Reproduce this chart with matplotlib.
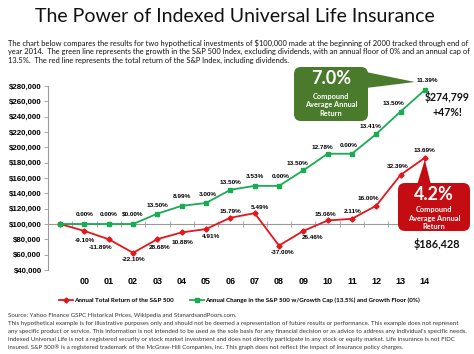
import matplotlib
matplotlib.use("Agg")
import matplotlib.pyplot as plt
from matplotlib.patches import FancyBboxPatch, Polygon

# ---------------- data ----------------
years = ["", "00", "01", "02", "03", "04", "05", "06", "07", "08", "09", "10", "11", "12", "13", "14"]
green_values = [100000, 100000, 100000, 100000, 113500, 123704, 127415, 144616, 149721,
                149721, 169933, 191651, 191651, 217351, 246693, 274799]
red_values = [100000, 90900, 80092, 62392, 80286, 89021, 93392, 108139, 114076,
              71868, 90884, 104571, 106778, 123862, 163982, 186428]
green_labels = [None, "0.00%", "0.00%", "$0.00%", "13.50%", "8.99%", "3.00%", "13.50%", "3.53%",
                "0.00%", "13.50%", "12.78%", "0.00%", "13.41%", "13.50%", "11.39%"]
red_labels = [None, "-9.10%", "-11.89%", "-22.10%", "28.68%", "10.88%", "4.91%", "15.79%", "5.49%",
              "-37.00%", "26.46%", "15.06%", "2.11%", "16.00%", "32.39%", "13.69%"]
y_ticks = [40000, 60000, 80000, 100000, 120000, 140000, 160000, 180000, 200000,
           220000, 240000, 260000, 280000]
red_name = "Annual Total Return of the S&P 500"
green_name = "Annual Change in the S&P 500 w/Growth Cap (13.5%) and Growth Floor (0%)"

# label offsets in pixels (style only)
green_off = [None, (0, 10), (0, 10), (0, 10), (0, 8), (0, 9), (2, 8), (0, 7), (0, 9), (2, 9),
             (-6, 7), (-5, 6), (-3, 8), (-6, 8), (-7, 8), (2, 9)]
red_off = [None, (0, -10), (-8, -8), (0, -7), (2, -8), (1, -10), (5, -7), (0, 6), (5, 6), (4, -7),
           (9, -7), (-2, 6), (1, 7), (-8, 7), (-3, 8), (0, 7)]

W, H = 474, 354
GREEN = "#1aab55"
RED = "#e3161c"
BOX_GREEN = "#4a7a2c"
BOX_RED = "#c40d12"
SANS = ["Lato", "DejaVu Sans"]
ARIAL = ["Liberation Sans", "DejaVu Sans"]

fig = plt.figure(figsize=(W / 100, H / 100), dpi=100)
fig.patch.set_facecolor("white")

ax = fig.add_axes([48 / W, (H - 270) / H, (437 - 48) / W, (270 - 86) / H])
x = list(range(len(years)))
ax.plot(x, red_values, color=RED, lw=1.3, marker="D", ms=2.6, mec=RED, mfc=RED,
        label=red_name, zorder=3)
ax.plot(x, green_values, color=GREEN, lw=1.3, marker="s", ms=3.2, mec=GREEN, mfc=GREEN,
        label=green_name, zorder=3)

ax.set_xlim(-0.5, len(years) - 0.5)
ax.set_ylim(40000, 280000)
ax.set_yticks(y_ticks)
ax.set_yticklabels(["${:,.0f}".format(v) for v in y_ticks])
for s in ["top", "right"]:
    ax.spines[s].set_visible(False)
ax.spines["left"].set_color("#9a9a9a")
ax.spines["bottom"].set_color("#9a9a9a")
ax.spines["bottom"].set_position(("data", 100000))
ax.tick_params(axis="y", length=3, width=0.6, color="#9a9a9a", pad=1.5, labelsize=5.7)
for t in ax.get_yticklabels():
    t.set_fontfamily(ARIAL)
    t.set_fontweight("bold")
ax.set_xticks(x)
ax.set_xticklabels(years)
ax.set_xticks([i - 0.5 for i in range(len(years) + 1)], minor=True)
ax.tick_params(axis="x", which="major", length=0, pad=38, labelsize=6.5)
ax.tick_params(axis="x", which="minor", length=4, width=0.6, color="#9a9a9a", direction="inout")
for t in ax.get_xticklabels():
    t.set_fontfamily(ARIAL)
    t.set_fontweight("bold")
ax.patch.set_alpha(0)

for i in range(1, len(years)):
    ax.annotate(green_labels[i], (x[i], green_values[i]), xytext=green_off[i],
                textcoords="offset pixels", ha="center", va="center", fontsize=4.6,
                fontweight="bold", family=ARIAL, annotation_clip=False)
    ax.annotate(red_labels[i], (x[i], red_values[i]), xytext=red_off[i],
                textcoords="offset pixels", ha="center", va="center", fontsize=4.6,
                fontweight="bold", family=ARIAL, annotation_clip=False)

leg = ax.legend(loc="center left", bbox_to_anchor=(59 / W, 1 - 300 / H),
                bbox_transform=fig.transFigure, ncol=2, frameon=False,
                prop={"family": SANS, "weight": "bold", "size": 4.5},
                handlelength=2.2, handletextpad=0.2, columnspacing=2.6, borderpad=0,
                borderaxespad=0)

# ---------------- overlay in pixel coords ----------------
ov = fig.add_axes([0, 0, 1, 1], zorder=10)
ov.set_xlim(0, W)
ov.set_ylim(H, 0)
ov.axis("off")

def px(xd, yd):
    dx, dy = ax.transData.transform((xd, yd))
    return dx, H - dy

ov.text(W / 2 - 2, 17, "The Power of Indexed Universal Life Insurance", ha="center", va="center",
        fontsize=14, family=SANS, color="#111111")
para = [
    "The chart below compares the results for two hypothetical investments of $100,000 made at the beginning of 2000 tracked through end of",
    "year 2014.  The green line represents the growth in the S&P 500 Index, excluding dividends, with an annual floor of 0% and an annual cap of",
    "13.5%.  The red line represents the total return of the S&P Index, including dividends.",
]
for k, line in enumerate(para):
    ov.text(8, 43 + 8.7 * k, line, ha="left", va="center", fontsize=5.4, family=SANS,
            color="#111111", parse_math=False)

src = [
    "Source: Yahoo Finance GSPC Historical Prices, Wikipedia and StanardsandPoors.com.",
    "This hypothetical example is for illustrative purposes only and should not be deemed a representation of future results or performance. This example does not represent",
    "any specific product or service. This information is not intended to be used as the sole basis for any financial decision or as advice to address any individual's specific needs.",
    "Indexed Universal Life is not a registered security or stock market investment and does not directly participate in any stock or equity market. Life insurance is not FIDC",
    "insured. S&P 500\u00ae is a registered trademark of the McGraw-Hill Companies, Inc. This graph does not reflect the impact of insurance policy charges.",
]
for k, line in enumerate(src):
    ov.text(8, 315 + 8 * k, line, ha="left", va="center", fontsize=4.4, family=SANS,
            color="#333333", parse_math=False)

# green callout
gx0, gy0, gx1, gy1 = 294, 67, 368, 121
ov.add_patch(FancyBboxPatch((gx0, gy0), gx1 - gx0, gy1 - gy0,
                            boxstyle="round,pad=0,rounding_size=7", fc=BOX_GREEN, ec="none"))
tipx, tipy = px(x[-1], green_values[-1])
ov.add_patch(Polygon([(gx1 - 2, 72), (tipx - 10, tipy - 8), (gx1 - 2, 88)], closed=True,
                     fc=BOX_GREEN, ec="none"))
ov.text((gx0 + gx1) / 2, 79, "7.0%", ha="center", va="center", color="white",
        fontsize=13, fontweight="bold", family=SANS)
ov.text((gx0 + gx1) / 2, 105, "Compound\nAverage Annual\nReturn", ha="center", va="center",
        color="white", fontsize=5.3, fontweight="bold", family=SANS, linespacing=1.25)

# red callout
rx0, ry0, rx1, ry1 = 398, 183, 470, 231
rtipx, rtipy = px(x[-1], red_values[-1])
ov.add_patch(FancyBboxPatch((rx0, ry0), rx1 - rx0, ry1 - ry0,
                            boxstyle="round,pad=0,rounding_size=7", fc=BOX_RED, ec="none"))
ov.add_patch(Polygon([(417, ry0 + 2), (rtipx, rtipy + 2), (431, ry0 + 2)], closed=True,
                     fc=BOX_RED, ec="none"))
ov.text((rx0 + rx1) / 2, 194, "4.2%", ha="center", va="center", color="white",
        fontsize=13, fontweight="bold", family=SANS)
ov.text((rx0 + rx1) / 2, 218, "Compound\nAverage Annual\nReturn", ha="center", va="center",
        color="white", fontsize=5.3, fontweight="bold", family=SANS, linespacing=1.25)

ov.text(447, 97, "${:,.0f}".format(green_values[-1]), ha="center", va="center",
        fontsize=7.6, fontweight="bold", family=SANS, color="#111111", parse_math=False)
ov.text(447, 112, "+47%!", ha="center", va="center", fontsize=7.6, fontweight="bold",
        family=SANS, color="#111111")
ov.text(437, 244, "${:,.0f}".format(red_values[-1]), ha="center", va="center",
        fontsize=7.8, fontweight="bold", family=SANS, color="#111111", parse_math=False)

fig.savefig("out.png", dpi=100, facecolor="white")
